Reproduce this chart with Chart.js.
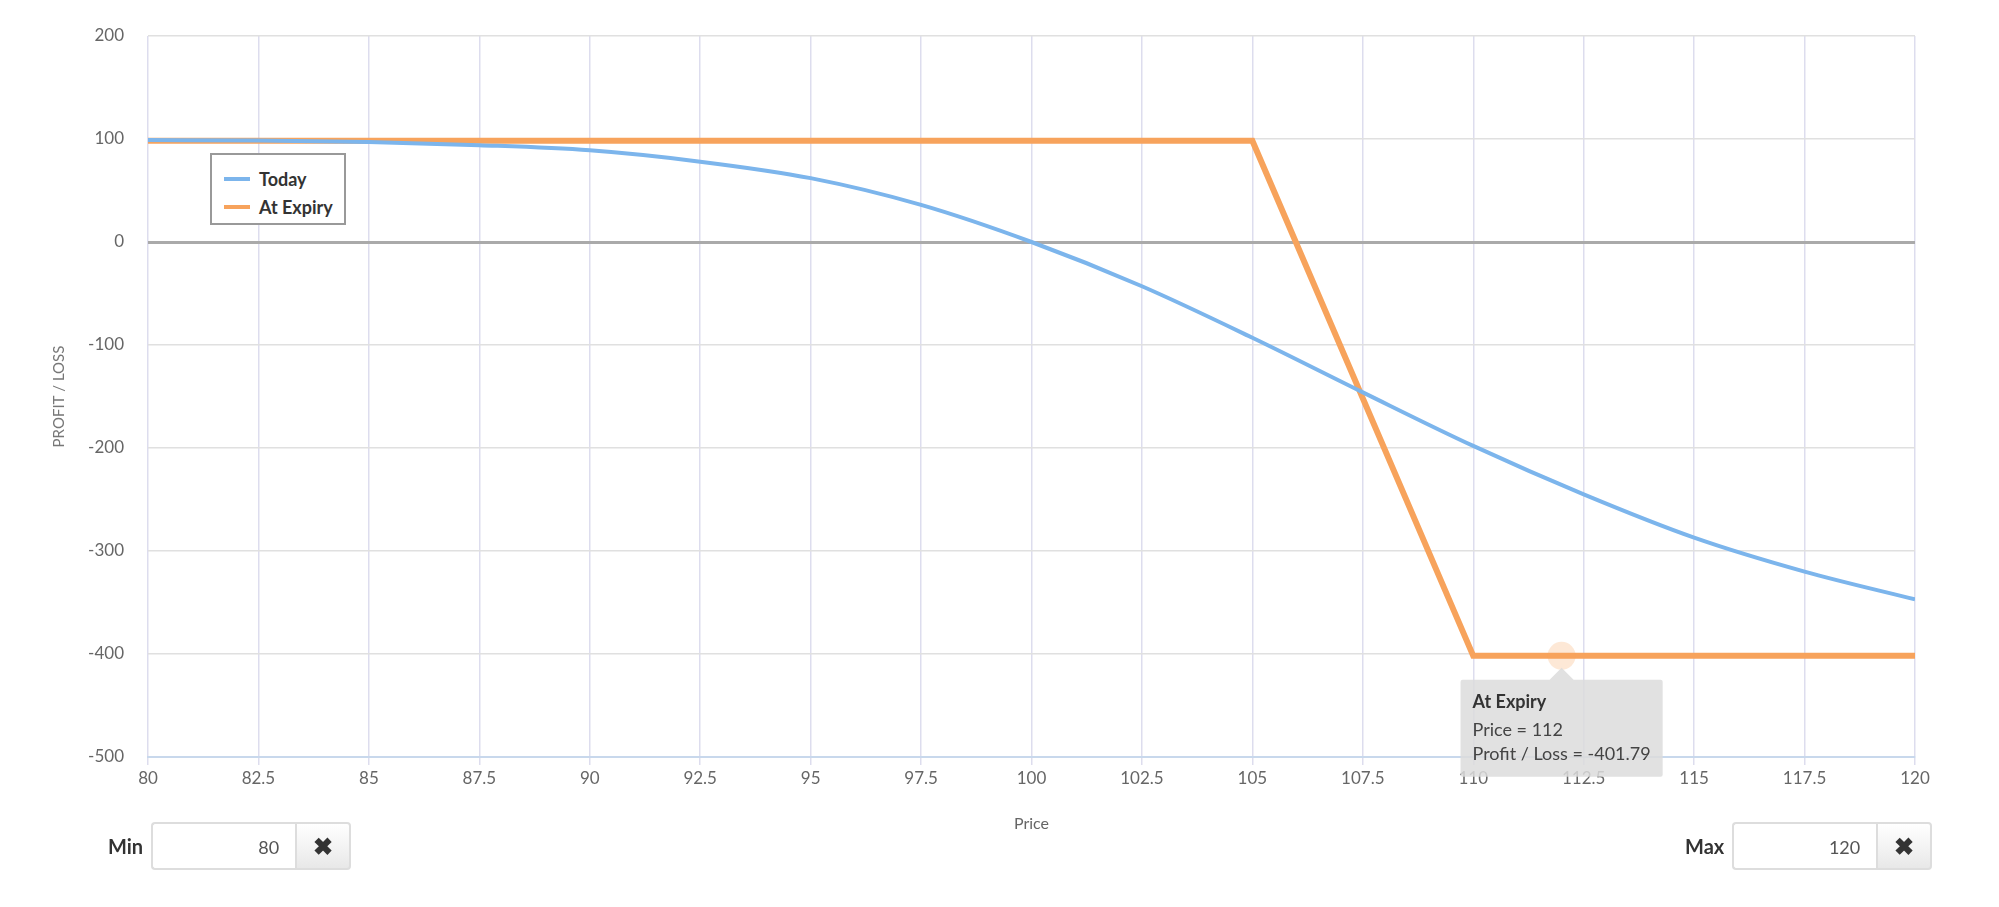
<!DOCTYPE html>
<html>
<head>
<meta charset="utf-8">
<script src="https://cdn.jsdelivr.net/npm/chart.js@4/dist/chart.umd.min.js"></script>
<style>
  body { margin: 0; background: #fff; font-family: Lato, sans-serif; }
  #wrap { position: relative; width: 1999px; height: 907px; }
  #legend { position: absolute; left: 210px; top: 153px; width: 136px; height: 72px; border: 2px solid #999; background: #fff;
            font-weight: bold; font-size: 18px; color: #333; box-sizing: border-box; padding: 10px 0 0 12px; }
  #legend div { height: 28px; display: flex; align-items: center; }
  #legend span { display: inline-block; width: 26px; height: 4px; margin-right: 9px; }
  .ctl { position: absolute; top: 822px; display: flex; align-items: center; font-size: 20px; }
  .ctl b { margin-right: 8px; color: #333; }
  .ctl .in { width: 144px; height: 48px; border: 2px solid #ddd; border-right: none; border-radius: 4px 0 0 4px; box-sizing: border-box;
             text-align: right; padding: 12px 16px 0 0; color: #555; font-size: 18px; }
  .ctl .bt { width: 56px; height: 48px; border: 2px solid #ddd; border-radius: 0 4px 4px 0; box-sizing: border-box;
             background: linear-gradient(#fff, #e8e8e8); text-align: center; line-height: 44px; font-size: 24px; font-weight: bold; color: #333; }
</style>
</head>
<body>
<div id="wrap">
  <canvas id="myChart" width="1999" height="907"></canvas>
  <div id="legend">
    <div><span style="background:#7cb5ec"></span>Today</div>
    <div><span style="background:#f7a35c"></span>At Expiry</div>
  </div>
  <div class="ctl" style="left:108px"><b>Min</b><div class="in">80</div><div class="bt">✖</div></div>
  <div class="ctl" style="left:1685px"><b>Max</b><div class="in">120</div><div class="bt">✖</div></div>
</div>
<script>
// Price points for the "Today" curve and its profit / loss values
const todayPrices = [80, 82.5, 85, 87.5, 90, 92.5, 95, 97.5, 100, 102.5, 105, 107.5, 110, 112.5, 115, 117.5, 120];
const todayPL = [99, 98.5, 97, 94, 89, 78, 62, 36, 0, -43, -93, -146, -198, -245, -287, -320, -347];

// Payoff at expiry
const expiryPrices = [80, 105, 110, 112, 120];
const expiryPL = [98.21, 98.21, -401.79, -401.79, -401.79];

// Axis ticks
const xTicks = [80, 82.5, 85, 87.5, 90, 92.5, 95, 97.5, 100, 102.5, 105, 107.5, 110, 112.5, 115, 117.5, 120];
const yTicks = [200, 100, 0, -100, -200, -300, -400, -500];

const ctx = document.getElementById('myChart').getContext('2d');

const myChart = new Chart(ctx, {
    type: 'line',
    data: {
        datasets: [{
            label: 'Today',
            data: todayPrices.map((p, i) => ({ x: p, y: todayPL[i] })),
            borderColor: '#7cb5ec',
            borderWidth: 4,
            pointRadius: 0,
            cubicInterpolationMode: 'monotone'
        }, {
            label: 'At Expiry',
            data: expiryPrices.map((p, i) => ({ x: p, y: expiryPL[i] })),
            borderColor: '#f7a35c',
            borderWidth: 6,
            pointRadius: 0,
            pointHoverRadius: 14,
            pointHoverBackgroundColor: 'rgba(247,163,92,0.25)',
            pointHoverBorderWidth: 0
        }]
    },
    options: {
        responsive: false,
        animation: false,
        events: [],
        layout: { padding: { top: 36, right: 84, left: 46, bottom: 70 } },
        plugins: {
            legend: { display: false },
            tooltip: {
                backgroundColor: 'rgba(220,220,220,0.85)',
                titleColor: '#333',
                bodyColor: '#444',
                titleFont: { family: 'Lato', size: 18, weight: 'bold' },
                bodyFont: { family: 'Lato', size: 18 },
                displayColors: false,
                yAlign: 'top',
                xAlign: 'center',
                caretSize: 12,
                caretPadding: 12,
                cornerRadius: 2,
                padding: 12,
                callbacks: {
                    title: items => items[0].dataset.label,
                    label: item => ['Price = ' + item.parsed.x, 'Profit / Loss = ' + item.parsed.y.toFixed(2)]
                }
            }
        },
        scales: {
            x: {
                type: 'linear',
                min: 80, max: 120,
                afterBuildTicks: s => { s.ticks = xTicks.map(v => ({ value: v })); },
                afterFit: s => { s.height = 80; },
                grid: { color: '#dde', lineWidth: 1.5, drawTicks: true, tickLength: 8 },
                border: { color: '#c8d8ec', width: 2 },
                ticks: { color: '#666', font: { family: 'Lato', size: 17 }, maxRotation: 0 },
                title: { display: true, text: 'Price', color: '#666', font: { family: 'Lato', size: 16 }, padding: { top: 14 } }
            },
            y: {
                min: -500, max: 200,
                afterBuildTicks: s => { s.ticks = yTicks.map(v => ({ value: v })); },
                afterFit: s => { s.width = 102; },
                grid: {
                    color: c => c.tick.value === 0 ? '#aaa' : '#e0e0e0',
                    lineWidth: c => c.tick.value === 0 ? 3 : 1.5,
                    drawTicks: false
                },
                border: { display: false },
                ticks: { color: '#666', font: { family: 'Lato', size: 17 }, padding: 24 },
                title: { display: true, text: 'PROFIT / LOSS', color: '#777', font: { family: 'Lato', size: 15 } }
            }
        }
    }
});

// Show the tooltip on the At Expiry point at price 112
const idx = expiryPrices.indexOf(112);
const pt = myChart.getDatasetMeta(1).data[idx];
myChart.setActiveElements([{ datasetIndex: 1, index: idx }]);
myChart.tooltip.setActiveElements([{ datasetIndex: 1, index: idx }], { x: pt.x, y: pt.y });
myChart.update();
</script>
</body>
</html>
